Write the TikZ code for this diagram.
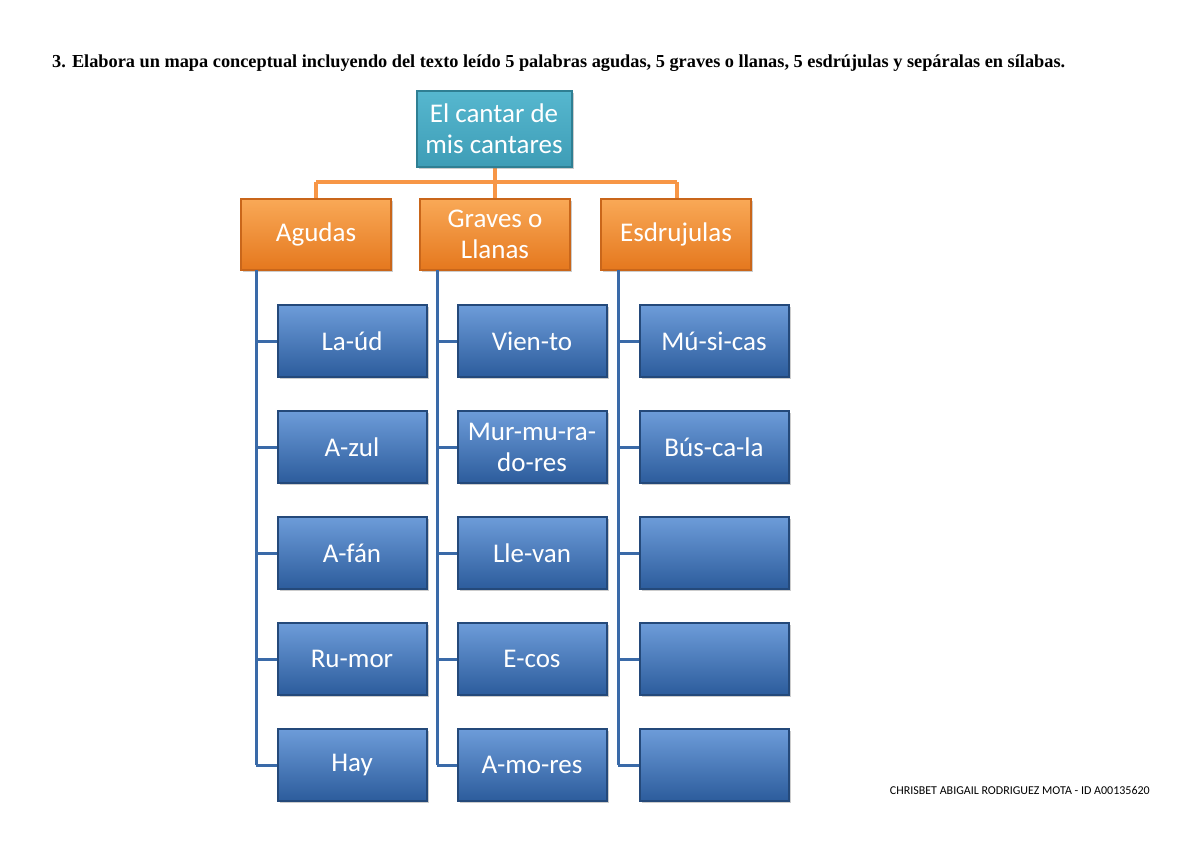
\documentclass[tikz,border=0pt]{standalone}
\usepackage{fontspec}
\setmainfont{Carlito}
\newfontfamily\titlefont{Liberation Serif}
\usetikzlibrary{shadows}
\definecolor{tealA}{HTML}{56B7CF}\definecolor{tealB}{HTML}{3E9DB6}\definecolor{tealD}{HTML}{2F7F93}
\definecolor{orA}{HTML}{F9A957}\definecolor{orB}{HTML}{E5781E}\definecolor{orD}{HTML}{C9661A}
\definecolor{blA}{HTML}{6D9CD9}\definecolor{blB}{HTML}{2C5C9C}\definecolor{blD}{HTML}{24497A}
\definecolor{lnO}{HTML}{F79646}\definecolor{lnB}{HTML}{3A6AA8}
\begin{document}
\begin{tikzpicture}[x=1pt,y=-1pt,
 box/.style={rectangle,draw,line width=2pt,text=white,align=center,font=\fontsize{27}{31}\selectfont,inner sep=2pt,drop shadow={shadow xshift=2pt,shadow yshift=-2pt,opacity=0.4}},
 root/.style={box,draw=tealD,top color=tealA,bottom color=tealB,minimum width=155pt,minimum height=76pt},
 cat/.style={box,draw=orD,top color=orA,bottom color=orB,minimum width=150pt,minimum height=71pt},
 leaf/.style={box,draw=blD,top color=blA,bottom color=blB,minimum width=149pt,minimum height=72pt},
 ol/.style={draw=lnO,line width=3.5pt},
 bl/.style={draw=lnB,line width=3pt}]
\useasboundingbox (0,0) rectangle (1200,849);
\fill[white] (0,0) rectangle (1200,849);
\node[anchor=west,inner sep=0] (title) at (52,63) {\resizebox{1013pt}{!}{\titlefont\bfseries 3. Elabora un mapa conceptual incluyendo del texto leído 5 palabras agudas, 5 graves o llanas, 5 esdrújulas y sepáralas en sílabas.}};
\node[anchor=east,inner sep=0,font=\fontsize{12}{14}\selectfont] (foot) at (1150,790) {CHRISBET ABIGAIL RODRIGUEZ MOTA - ID A00135620};
\coordinate (j) at (495,182);
\coordinate (jl) at (316,182);
\coordinate (jr) at (677,182);
\draw[ol] (495,167) -- (j);
\draw[ol] (jl) -- (jr);
\draw[ol] (jl) -- (316,198);
\draw[ol] (j) -- (495,198);
\draw[ol] (jr) -- (677,198);
\node[root] (r) at (494,129) {El cantar de\\mis cantares};
\node[cat] (a) at (316,234) {Agudas};
\node[cat] (g) at (495,234) {Graves o\\Llanas};
\node[cat] (e) at (676,234) {Esdrujulas};
\foreach \col/\cx/\lx/\lst in {a/352/256/{La-úd,A-zul,A-fán,Ru-mor,Hay},g/532/437/{Vien-to,Mur-mu-ra-\\do-res,Lle-van,E-cos,A-mo-res},e/714/618/{Mú-si-cas,Bús-ca-la,{},{},{}}}{
  \coordinate (\col top) at (\lx,270);
  \coordinate (\col bot) at (\lx,765);
  \draw[bl] (\col top) -- (\col bot);
  \foreach \t [count=\i] in \lst {
    \pgfmathsetmacro\yy{341+106*(\i-1)}
    \coordinate (\col t\i) at (\lx,\yy);
    \node[leaf] (\col\i) at (\cx,\yy) {\t};
    \draw[bl] (\col t\i) -- (\col\i.west);
  }
}
\end{tikzpicture}
\end{document}
